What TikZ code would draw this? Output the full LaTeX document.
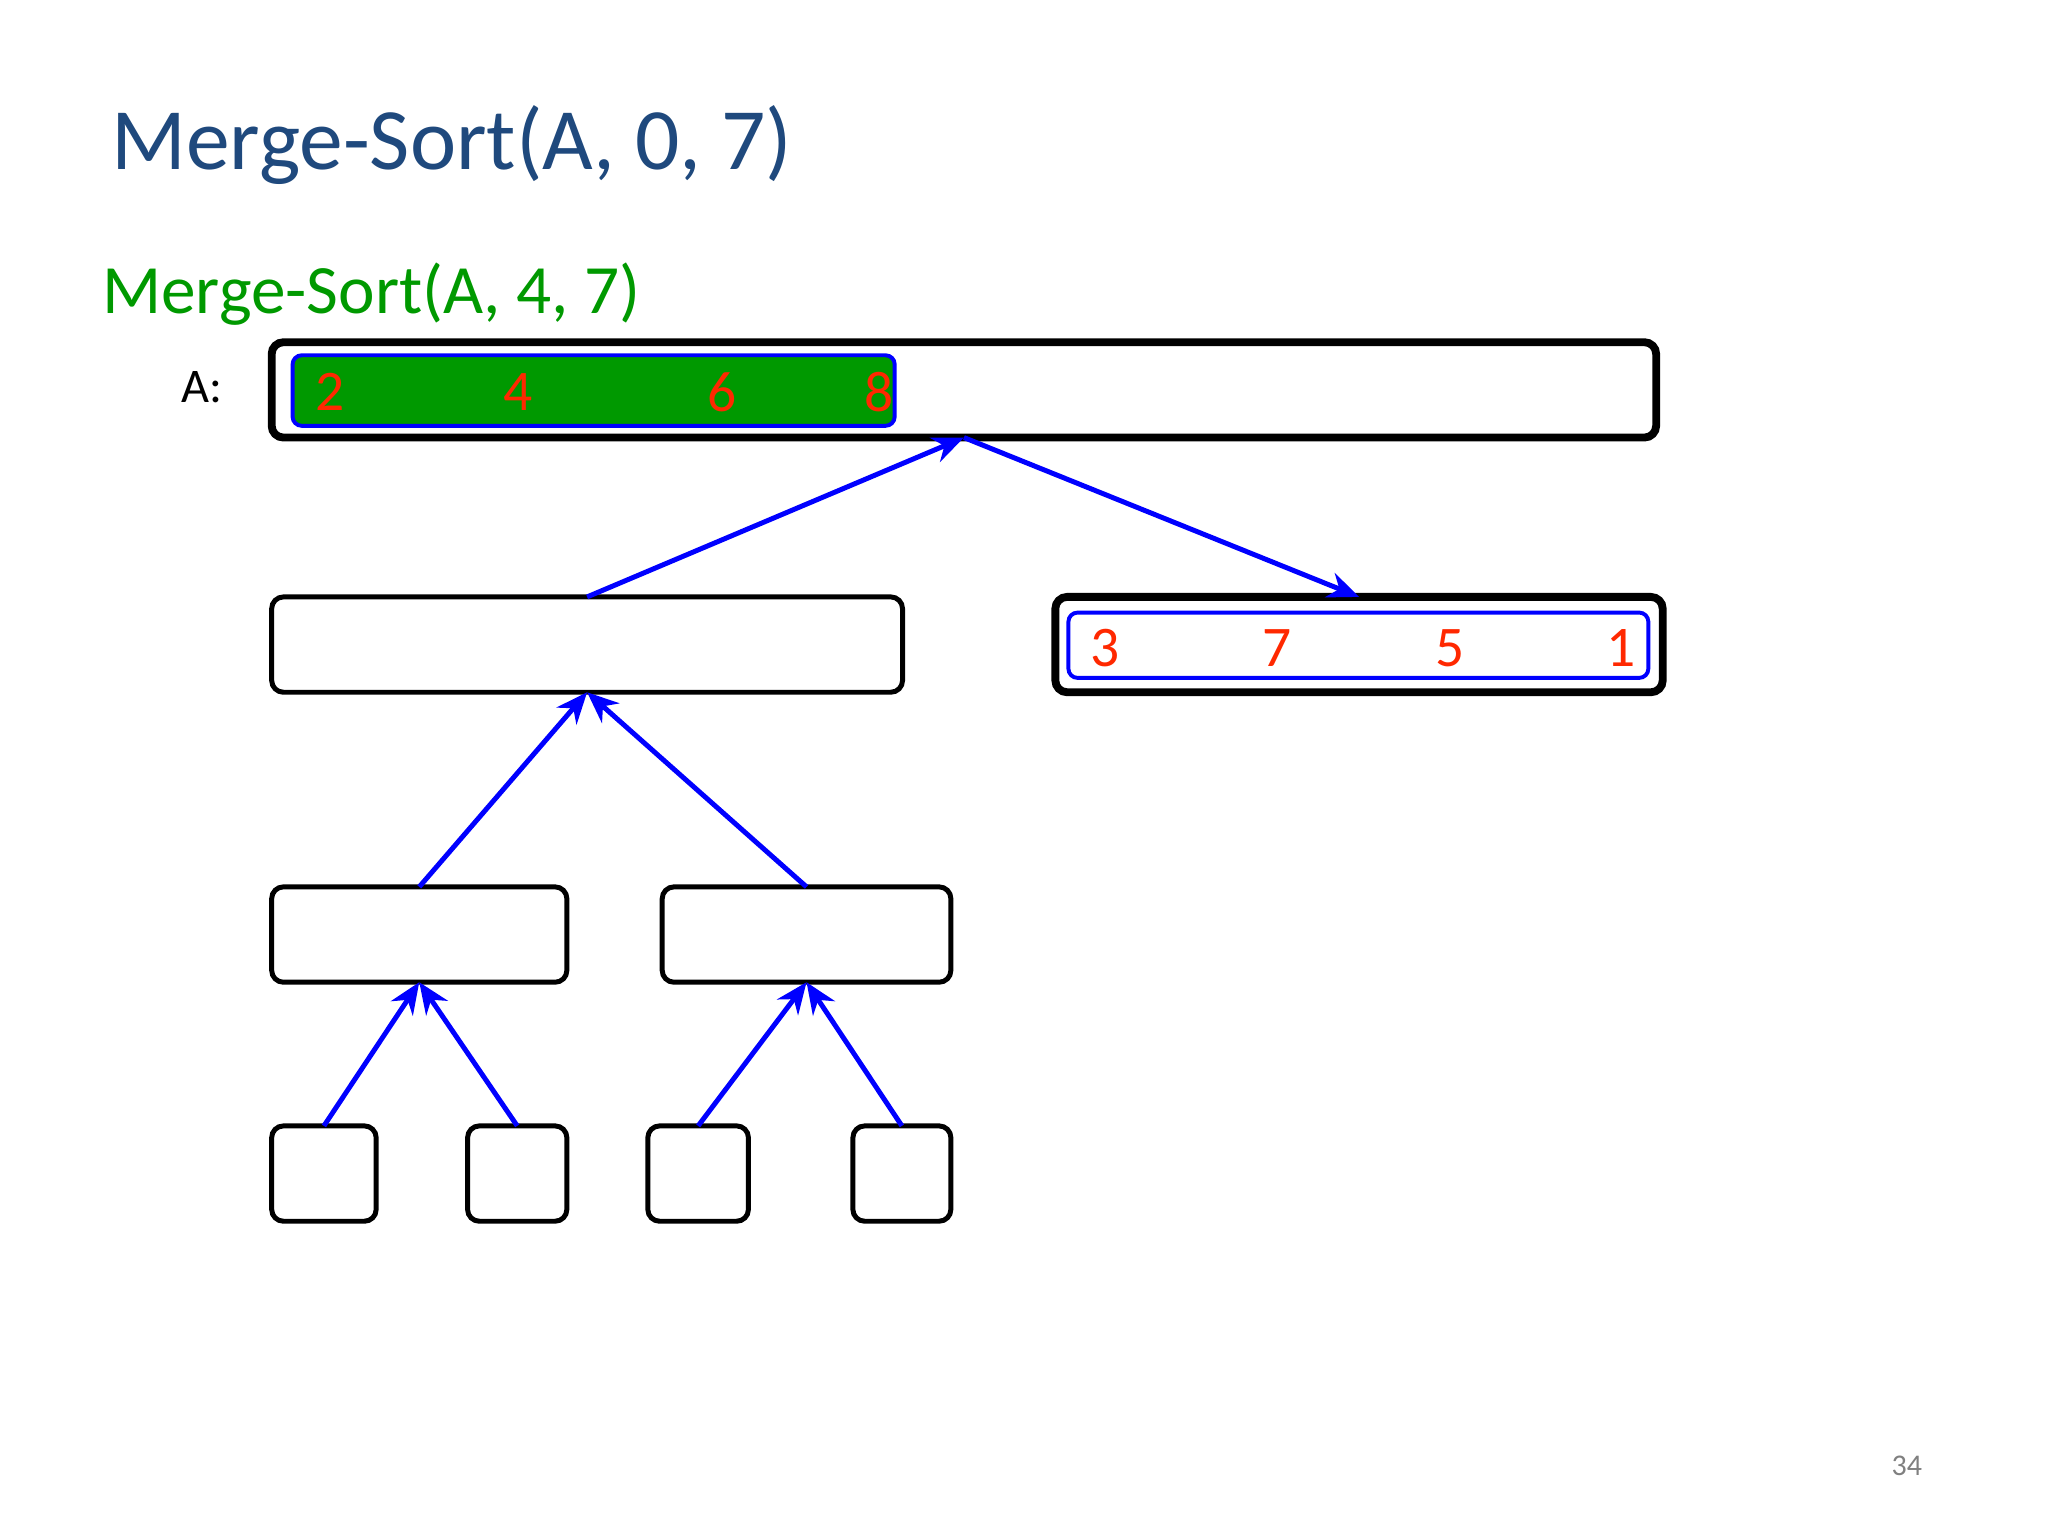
\documentclass[tikz,border=0pt]{standalone}
\usepackage{fontspec}
\setmainfont{Carlito}
\usetikzlibrary{arrows.meta}
\definecolor{ttl}{RGB}{31,73,125}
\definecolor{grn}{RGB}{0,153,0}
\definecolor{dig}{RGB}{255,40,0}
\begin{document}
\begin{tikzpicture}[x=1pt,y=-1pt,
 box/.style={draw=black,line width=3.8pt,rounded corners=9pt,inner sep=0pt,outer sep=0pt},
 bbox/.style={box,line width=6pt},
 ibox/.style={draw=blue,line width=3pt,rounded corners=7pt,inner sep=0pt,outer sep=0pt},
 num/.style={text=dig,font=\fontsize{44}{44}\selectfont,inner sep=0pt},
 arr/.style={draw=blue,line width=3.8pt,-{Stealth[length=24pt,width=20pt]}}]
\useasboundingbox (0,0) rectangle (1568,1176);
\node[anchor=base west,text=ttl,font=\fontsize{67}{67}\selectfont,inner sep=0pt] (t1) at (85,130) {Merge-Sort(A, 0, 7)};
\node[anchor=base west,text=grn,font=\fontsize{53}{53}\selectfont,inner sep=0pt] (t2) at (78,240) {Merge-Sort(A, 4, 7)};
\node[anchor=base west,font=\fontsize{37}{37}\selectfont,inner sep=0pt] (al) at (139,308) {A:};
% top
\node[bbox,minimum width=1060pt,minimum height=73pt] (top) at (738,298.5) {};
\node[ibox,fill=grn,minimum width=461pt,minimum height=54pt] (g) at (454.5,299) {};
\foreach \x/\d [count=\i] in {253/2,397/4,553/6,673/8}{\node[num] (a\i) at (\x,300) {\d};}
% level 2
\node[box,minimum width=483pt,minimum height=73pt] (l2l) at (449.5,493.5) {};
\node[bbox,minimum width=465pt,minimum height=73pt] (l2r) at (1040.5,493.5) {};
\node[ibox,minimum width=444pt,minimum height=50pt] (l2ri) at (1040,494) {};
\foreach \x/\d [count=\i] in {846/3,978/7,1110/5,1241/1}{\node[num] (b\i) at (\x,496) {\d};}
% level 3
\node[box,minimum width=226pt,minimum height=73pt] (l3a) at (321,715.5) {};
\node[box,minimum width=221pt,minimum height=73pt] (l3b) at (617.5,715.5) {};
% level 4
\node[box,minimum width=80pt,minimum height=73pt] (l4a) at (248,898.5) {};
\node[box,minimum width=76pt,minimum height=73pt] (l4b) at (396,898.5) {};
\node[box,minimum width=77pt,minimum height=73pt] (l4c) at (534.5,898.5) {};
\node[box,minimum width=75pt,minimum height=73pt] (l4d) at (690.5,898.5) {};
% arrows
\draw[arr] (l2l.north) -- (top.south);
\draw[arr] (top.south) -- (l2r.north);
\draw[arr] (l3a.north) -- (l2l.south);
\draw[arr] (l3b.north) -- (l2l.south);
\draw[arr] (l4a.north) -- (l3a.south);
\draw[arr] (l4b.north) -- (l3a.south);
\draw[arr] (l4c.north) -- (l3b.south);
\draw[arr] (l4d.north) -- (l3b.south);
\node[text=gray,font=\fontsize{23}{23}\selectfont,inner sep=0pt] (pg) at (1460,1122) {34};
\end{tikzpicture}
\end{document}
